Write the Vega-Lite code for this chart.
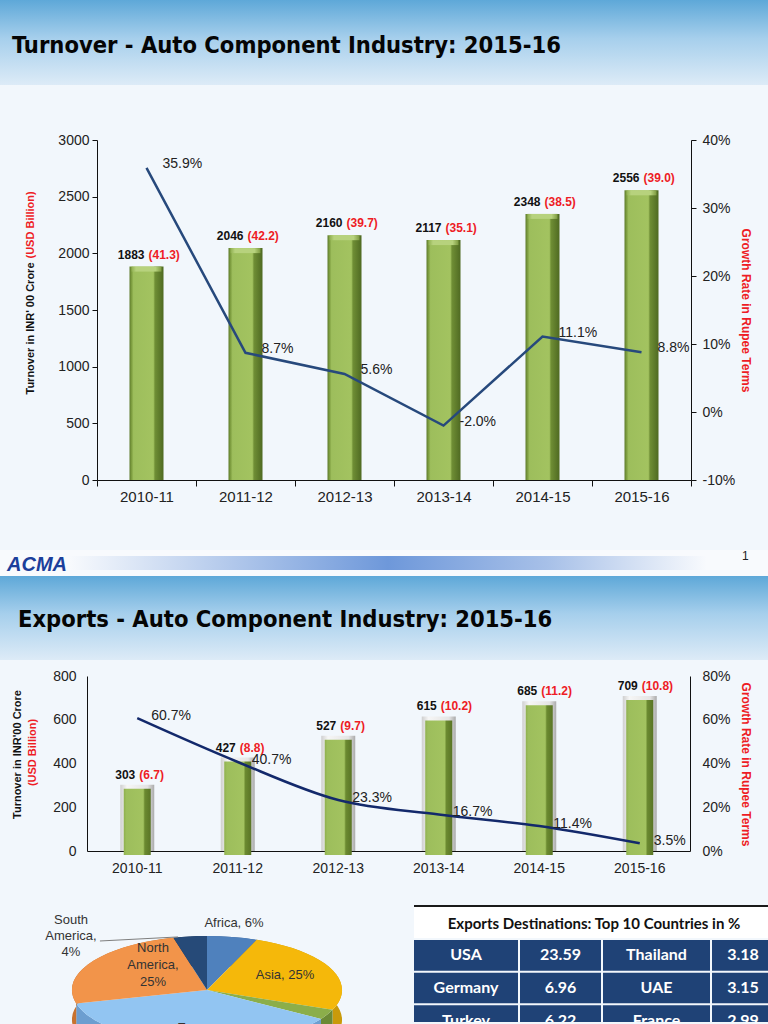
{
  "$schema": "https://vega.github.io/schema/vega-lite/v6.json",
  "padding": 0,
  "background": "#F2F7FC",
  "bounds": "flush",
  "spacing": 0,
  "data": {"values": [{}]},
  "config": {
    "view": {"stroke": null},
    "font": "Liberation Sans",
    "axis": {"labelFont": "Liberation Sans", "titleFont": "Liberation Sans"},
    "locale": {"number": {"decimal": ".", "thousands": ",", "grouping": [3], "currency": ["$", ""], "minus": "-"}}
  },
  "datasets": {
    "turnover": [
      {"year": "2010-11", "inr": 1883, "usd": 41.3, "growth": 0.359},
      {"year": "2011-12", "inr": 2046, "usd": 42.2, "growth": 0.087},
      {"year": "2012-13", "inr": 2160, "usd": 39.7, "growth": 0.056},
      {"year": "2013-14", "inr": 2117, "usd": 35.1, "growth": -0.02},
      {"year": "2014-15", "inr": 2348, "usd": 38.5, "growth": 0.111},
      {"year": "2015-16", "inr": 2556, "usd": 39.0, "growth": 0.088}
    ],
    "exports": [
      {"year": "2010-11", "inr": 303, "usd": 6.7, "growth": 0.607},
      {"year": "2011-12", "inr": 427, "usd": 8.8, "growth": 0.407},
      {"year": "2012-13", "inr": 527, "usd": 9.7, "growth": 0.233},
      {"year": "2013-14", "inr": 615, "usd": 10.2, "growth": 0.167},
      {"year": "2014-15", "inr": 685, "usd": 11.2, "growth": 0.114},
      {"year": "2015-16", "inr": 709, "usd": 10.8, "growth": 0.035}
    ],
    "regions": [
      {"region": "Africa", "value": 6, "label": "Africa, 6%"},
      {"region": "Asia", "value": 25, "label": "Asia, 25%"},
      {"region": "Others", "value": 3, "label": "Others, 3%"},
      {"region": "Europe", "value": 37, "label": "Europe,\n37%"},
      {"region": "North America", "value": 25, "label": "North\nAmerica,\n25%"},
      {"region": "South America", "value": 4, "label": "South\nAmerica,\n4%"}
    ],
    "countries": [
      {"row": 1, "c1": "USA", "v1": 23.59, "c2": "Thailand", "v2": 3.18},
      {"row": 2, "c1": "Germany", "v1": 6.96, "c2": "UAE", "v2": 3.15},
      {"row": 3, "c1": "Turkey", "v1": 6.22, "c2": "France", "v2": 2.99}
    ]
  },
  "vconcat": [
    {
      "width": 768, "height": 85,
      "view": {"stroke": null, "fill": {"gradient": "linear", "x1": 0, "y1": 0, "x2": 0, "y2": 1, "stops": [{"offset": 0, "color": "#5EA8D8"}, {"offset": 0.45, "color": "#A6CFEC"}, {"offset": 1, "color": "#DDEBF7"}]}},
      "mark": {"type": "text", "text": "Turnover - Auto Component Industry: 2015-16", "font": "DejaVu Sans Condensed, Liberation Sans", "fontWeight": "bold", "fontSize": 23.5, "align": "left", "baseline": "middle", "dx": 12, "dy": 3, "color": "#050505"},
      "encoding": {
        "x": {"datum": 0, "type": "quantitative", "scale": {"domain": [0, 1]}, "axis": null},
        "y": {"datum": 0.5, "type": "quantitative", "scale": {"domain": [0, 1]}, "axis": null}
      }
    },
    {"width": 768, "height": 55, "mark": {"type": "text", "text": ""}},
    {
      "width": 768, "height": 340,
      "data": {"name": "turnover"},
      "resolve": {"scale": {"y": "independent"}},
      "layer": [
        {
          "encoding": {
            "x": {"field": "year", "type": "nominal", "scale": {"range": [97, 691], "paddingInner": 0, "paddingOuter": 0},
                  "axis": {"title": null, "labelAngle": 0, "labelFontSize": 15, "labelColor": "#222", "tickBand": "extent", "tickSize": 6, "tickColor": "#111", "domainColor": "#111", "labelPadding": 3}},
            "y": {"field": "inr", "type": "quantitative", "scale": {"domain": [0, 3000]},
                  "axis": {"orient": "left", "offset": -97, "values": [0, 500, 1000, 1500, 2000, 2500, 3000], "format": "d", "grid": false, "domainColor": "#111", "tickColor": "#111", "tickSize": 5, "labelFontSize": 14, "labelColor": "#222", "labelPadding": 3,
                           "title": "Turnover in INR' 00 Crore", "titleFontSize": 11, "titleFontWeight": "bold", "titleColor": "#111", "titleAngle": 270, "titleX": -67, "titleY": 122, "titleAlign": "right", "titleBaseline": "middle"}}
          },
          "layer": [
            {"mark": {"type": "bar", "width": 34, "color": {"gradient": "linear", "x1": 0, "y1": 0, "x2": 1, "y2": 0, "stops": [{"offset": 0, "color": "#5E7B2C"}, {"offset": 0.06, "color": "#7E9E40"}, {"offset": 0.12, "color": "#9DBE5C"}, {"offset": 0.7, "color": "#A3C360"}, {"offset": 0.75, "color": "#6F8E35"}, {"offset": 1, "color": "#4F6A22"}]}}},
            {"mark": {"type": "bar", "width": 30, "y2Offset": 5, "color": {"gradient": "linear", "x1": 0, "y1": 0, "x2": 1, "y2": 0, "stops": [{"offset": 0, "color": "#8FAF50"}, {"offset": 0.15, "color": "#B7D27D"}, {"offset": 0.8, "color": "#B7D27D"}, {"offset": 1, "color": "#7D9A40"}]}},
             "encoding": {"y2": {"field": "inr"}}},
            {"mark": {"type": "text", "align": "right", "baseline": "bottom", "dx": -2, "dy": -5, "fontSize": 12, "fontWeight": "bold", "color": "#111"},
             "encoding": {"text": {"field": "inr", "type": "quantitative", "format": "d"}}},
            {"transform": [{"calculate": "'(' + format(datum.usd, '.1f') + ')'", "as": "usdLabel"}],
             "mark": {"type": "text", "align": "left", "baseline": "bottom", "dx": 2, "dy": -5, "fontSize": 12, "fontWeight": "bold", "color": "#EE1C25"},
             "encoding": {"text": {"field": "usdLabel", "type": "nominal"}}},
            {"data": {"values": [{}]},
             "mark": {"type": "text", "text": "CAGR: 6%", "fontSize": 18, "fontWeight": "bold", "color": "#111", "baseline": "middle", "dx": 29, "dy": -23},
             "encoding": {"x": {"datum": "2012-13"}, "y": {"datum": 3000}}},
            {"data": {"values": [{}]},
             "mark": {"type": "text", "text": "(Turnover includes supplies to OEMs, aftermarket sales and exports)", "fontSize": 11, "fontStyle": "italic", "color": "#222", "align": "right", "baseline": "middle", "dx": 115, "dy": 43},
             "encoding": {"x": {"datum": "2015-16"}, "y": {"datum": 0}}}
          ]
        },
        {
          "encoding": {
            "x": {"field": "year", "type": "nominal", "title": null},
            "y": {"field": "growth", "type": "quantitative", "scale": {"domain": [-0.1, 0.4]},
                  "axis": {"orient": "right", "offset": -77, "values": [-0.1, 0, 0.1, 0.2, 0.3, 0.4], "format": ".0%", "grid": false, "domainColor": "#111", "tickColor": "#111", "tickSize": 5, "labelFontSize": 14, "labelColor": "#222", "labelPadding": 6,
                           "title": "Growth Rate in Rupee Terms", "titleFontSize": 12, "titleFontWeight": "bold", "titleColor": "#EE1C25", "titleAngle": 90, "titleX": 54, "titleY": 170, "titleAlign": "center", "titleBaseline": "middle"}}
          },
          "layer": [
            {"mark": {"type": "line", "color": "#27497C", "strokeWidth": 2.5}},
            {"mark": {"type": "text", "align": "left", "baseline": "middle", "dx": 16, "dy": -4, "fontSize": 14, "color": "#222"},
             "encoding": {"text": {"field": "growth", "type": "quantitative", "format": ".1%"}}}
          ]
        },
        {
          "mark": {"type": "point", "opacity": 0},
          "encoding": {
            "y": {"field": "inr", "type": "quantitative", "scale": {"domain": [0, 3000]},
                  "axis": {"orient": "left", "offset": -97, "labels": false, "ticks": false, "domain": false, "grid": false,
                           "title": "(USD Billion)", "titleFontSize": 11, "titleFontWeight": "bold", "titleColor": "#EE1C25", "titleAngle": 270, "titleX": -67, "titleY": 118, "titleAlign": "left", "titleBaseline": "middle"}}
          }
        }
      ]
    },
    {"width": 768, "height": 70, "mark": {"type": "text", "text": ""}},
    {
      "width": 768, "height": 26,
      "view": {"stroke": null, "fill": "#F8FAFD"},
      "encoding": {
        "x": {"datum": 0, "type": "quantitative", "scale": {"domain": [0, 1]}, "axis": null},
        "y": {"datum": 0.5, "type": "quantitative", "scale": {"domain": [0, 1]}, "axis": null}
      },
      "layer": [
        {"mark": {"type": "rect", "color": {"gradient": "linear", "x1": 0, "y1": 0, "x2": 1, "y2": 0, "stops": [{"offset": 0, "color": "#F8FAFD"}, {"offset": 0.5, "color": "#6E98DA"}, {"offset": 0.75, "color": "#A7C0E8"}, {"offset": 1, "color": "#F8FAFD"}]}},
         "encoding": {"x": {"datum": 0.09, "type": "quantitative"}, "x2": {"datum": 0.92}, "y": {"datum": 0.77, "type": "quantitative"}, "y2": {"datum": 0.23}}},
        {"mark": {"type": "text", "text": "ACMA", "fontSize": 20, "fontWeight": "bold", "fontStyle": "italic", "color": "#1C3F9B", "align": "left", "baseline": "middle", "dx": 7, "dy": 2}},
        {"mark": {"type": "text", "text": "1", "fontSize": 12, "color": "#222", "align": "left", "baseline": "middle", "dx": 742, "dy": -7}}
      ]
    },
    {
      "width": 768, "height": 84,
      "view": {"stroke": null, "fill": {"gradient": "linear", "x1": 0, "y1": 0, "x2": 0, "y2": 1, "stops": [{"offset": 0, "color": "#5EA8D8"}, {"offset": 0.45, "color": "#A6CFEC"}, {"offset": 1, "color": "#DDEBF7"}]}},
      "mark": {"type": "text", "text": "Exports - Auto Component Industry: 2015-16", "font": "DejaVu Sans Condensed, Liberation Sans", "fontWeight": "bold", "fontSize": 23.5, "align": "left", "baseline": "middle", "dx": 18, "dy": 2, "color": "#050505"},
      "encoding": {
        "x": {"datum": 0, "type": "quantitative", "scale": {"domain": [0, 1]}, "axis": null},
        "y": {"datum": 0.5, "type": "quantitative", "scale": {"domain": [0, 1]}, "axis": null}
      }
    },
    {"width": 768, "height": 16, "mark": {"type": "text", "text": ""}},
    {
      "width": 768, "height": 175,
      "data": {"name": "exports"},
      "resolve": {"scale": {"y": "independent"}},
      "layer": [
        {
          "encoding": {
            "x": {"field": "year", "type": "nominal", "scale": {"range": [87, 690], "paddingInner": 0, "paddingOuter": 0},
                  "axis": {"title": null, "labelAngle": 0, "labelFontSize": 14, "labelColor": "#222", "ticks": false, "tickSize": 0, "domainColor": "#111", "labelPadding": 10}},
            "y": {"field": "inr", "type": "quantitative", "scale": {"domain": [0, 800]},
                  "axis": {"orient": "left", "offset": -87, "values": [0, 200, 400, 600, 800], "format": "d", "grid": false, "domainColor": "#111", "ticks": false, "tickSize": 0, "labelFontSize": 14, "labelColor": "#222", "labelPadding": 11,
                           "title": "Turnover in INR'00 Crore", "titleFontSize": 11, "titleFontWeight": "bold", "titleColor": "#111", "titleAngle": 270, "titleX": -70, "titleY": 78, "titleAlign": "center", "titleBaseline": "middle"}}
          },
          "layer": [
            {"mark": {"type": "bar", "width": 34, "color": {"gradient": "linear", "x1": 0, "y1": 0, "x2": 1, "y2": 0, "stops": [{"offset": 0, "color": "#CFCFCF"}, {"offset": 0.2, "color": "#F6F6F6"}, {"offset": 0.8, "color": "#E4E4E4"}, {"offset": 1, "color": "#ABABAB"}]}}},
            {"mark": {"type": "bar", "width": 27, "yOffset": 4, "color": {"gradient": "linear", "x1": 0, "y1": 0, "x2": 1, "y2": 0, "stops": [{"offset": 0, "color": "#8FB04E"}, {"offset": 0.1, "color": "#9DBE5C"}, {"offset": 0.72, "color": "#A3C360"}, {"offset": 0.78, "color": "#6B8A30"}, {"offset": 1, "color": "#5A7526"}]}}},
            {"mark": {"type": "text", "align": "right", "baseline": "bottom", "dx": -2, "dy": -3, "fontSize": 12, "fontWeight": "bold", "color": "#111"},
             "encoding": {"text": {"field": "inr", "type": "quantitative", "format": "d"}}},
            {"transform": [{"calculate": "'(' + format(datum.usd, '.1f') + ')'", "as": "usdLabel"}],
             "mark": {"type": "text", "align": "left", "baseline": "bottom", "dx": 2, "dy": -3, "fontSize": 12, "fontWeight": "bold", "color": "#EE1C25"},
             "encoding": {"text": {"field": "usdLabel", "type": "nominal"}}},
            {"data": {"values": [{}]},
             "mark": {"type": "text", "text": "CAGR: 18%", "fontSize": 15, "fontWeight": "bold", "color": "#111", "baseline": "middle", "dx": 38, "dy": 1},
             "encoding": {"x": {"datum": "2012-13"}, "y": {"datum": 800}}}
          ]
        },
        {
          "encoding": {
            "x": {"field": "year", "type": "nominal", "title": null},
            "y": {"field": "growth", "type": "quantitative", "scale": {"domain": [0, 0.8]},
                  "axis": {"orient": "right", "offset": -78, "values": [0, 0.2, 0.4, 0.6, 0.8], "format": ".0%", "grid": false, "domainColor": "#111", "ticks": false, "tickSize": 0, "labelFontSize": 14, "labelColor": "#222", "labelPadding": 12,
                           "title": "Growth Rate in Rupee Terms", "titleFontSize": 12, "titleFontWeight": "bold", "titleColor": "#EE1C25", "titleAngle": 90, "titleX": 55, "titleY": 88, "titleAlign": "center", "titleBaseline": "middle"}}
          },
          "layer": [
            {"mark": {"type": "line", "color": "#13296B", "strokeWidth": 2.5, "interpolate": "monotone"}},
            {"mark": {"type": "text", "align": "left", "baseline": "middle", "dx": 14, "dy": -2, "fontSize": 14, "color": "#222"},
             "encoding": {"text": {"field": "growth", "type": "quantitative", "format": ".1%"}}}
          ]
        },
        {
          "mark": {"type": "point", "opacity": 0},
          "encoding": {
            "y": {"field": "inr", "type": "quantitative", "scale": {"domain": [0, 800]},
                  "axis": {"orient": "left", "offset": -87, "labels": false, "ticks": false, "domain": false, "grid": false,
                           "title": "(USD Billion)", "titleFontSize": 11, "titleFontWeight": "bold", "titleColor": "#EE1C25", "titleAngle": 270, "titleX": -55, "titleY": 76, "titleAlign": "center", "titleBaseline": "middle"}}
          }
        }
      ]
    },
    {"width": 768, "height": 29, "mark": {"type": "text", "text": ""}},
    {
      "hconcat": [
        {
          "width": 414, "height": 144,
          "data": {"name": "regions"},
          "resolve": {"scale": {"shape": "independent", "color": "independent"}},
          "encoding": {
            "x": {"datum": 0.5, "type": "quantitative", "scale": {"domain": [0, 1]}, "axis": null},
            "y": {"datum": 0.2361, "type": "quantitative", "scale": {"domain": [0, 1]}, "axis": null}
          },
          "layer": [
            {"mark": {"type": "point", "filled": true, "opacity": 1, "size": 72900, "strokeWidth": 0, "clip": true},
             "encoding": {
               "shape": {"field": "region", "type": "nominal", "legend": null, "scale": {"domain": ["Africa", "Asia", "Others", "Europe", "North America", "South America"], "range": [
                 "M0,-0.4 A1,0.4 0 0,1 0.3681,-0.3719 L0.3681,-0.1519 A1,0.4 0 0,0 0,-0.18 Z",
                 "M0.3681,-0.3719 A1,0.4 0 0,1 0.9298,0.1472 L0.9298,0.3672 A1,0.4 0 0,0 0.3681,-0.1519 Z",
                 "M0.9298,0.1472 A1,0.4 0 0,1 0.8443,0.2143 L0.8443,0.4343 A1,0.4 0 0,0 0.9298,0.3672 Z",
                 "M0.8443,0.2143 A1,0.4 0 0,1 -0.9686,0.0995 L-0.9686,0.3195 A1,0.4 0 0,0 0.8443,0.4343 Z",
                 "M-0.9686,0.0995 A1,0.4 0 0,1 -0.2487,-0.3875 L-0.2487,-0.1675 A1,0.4 0 0,0 -0.9686,0.3195 Z",
                 "M-0.2487,-0.3875 A1,0.4 0 0,1 0,-0.4 L0,-0.18 A1,0.4 0 0,0 -0.2487,-0.1675 Z"]}},
               "color": {"field": "region", "type": "nominal", "legend": null, "scale": {"domain": ["Africa", "Asia", "Others", "Europe", "North America", "South America"], "range": ["#3A6296", "#C99A0A", "#6B8A35", "#6C9ED0", "#C8722F", "#1A3558"]}}
             }},
            {"mark": {"type": "point", "filled": true, "opacity": 1, "size": 72900, "strokeWidth": 0, "clip": true},
             "encoding": {
               "shape": {"field": "region", "type": "nominal", "legend": null, "scale": {"domain": ["Africa", "Asia", "Others", "Europe", "North America", "South America"], "range": [
                 "M0,0 L0,-0.4 A1,0.4 0 0,1 0.3681,-0.3719 Z",
                 "M0,0 L0.3681,-0.3719 A1,0.4 0 0,1 0.9298,0.1472 Z",
                 "M0,0 L0.9298,0.1472 A1,0.4 0 0,1 0.8443,0.2143 Z",
                 "M0,0 L0.8443,0.2143 A1,0.4 0 0,1 -0.9686,0.0995 Z",
                 "M0,0 L-0.9686,0.0995 A1,0.4 0 0,1 -0.2487,-0.3875 Z",
                 "M0,0 L-0.2487,-0.3875 A1,0.4 0 0,1 0,-0.4 Z"]}},
               "color": {"field": "region", "type": "nominal", "legend": null, "scale": {"domain": ["Africa", "Asia", "Others", "Europe", "North America", "South America"], "range": ["#4F81BD", "#F5B80A", "#8BAE4A", "#92C5F2", "#F2944A", "#264A78"]}}
             }},
            {"transform": [{"filter": "datum.region === 'Africa'"}],
             "mark": {"type": "text", "fontSize": 13, "color": "#333", "baseline": "middle", "dx": 27, "dy": -67},
             "encoding": {"text": {"field": "label", "type": "nominal"}}},
            {"transform": [{"filter": "datum.region === 'Asia'"}],
             "mark": {"type": "text", "fontSize": 13, "color": "#333", "baseline": "middle", "dx": 78, "dy": -15},
             "encoding": {"text": {"field": "label", "type": "nominal"}}},
            {"transform": [{"filter": "datum.region === 'North America'"}],
             "mark": {"type": "text", "fontSize": 13, "color": "#333", "lineBreak": "\n", "lineHeight": 17, "baseline": "middle", "dx": -54, "dy": -42},
             "encoding": {"text": {"field": "label", "type": "nominal"}}},
            {"transform": [{"filter": "datum.region === 'South America'"}],
             "mark": {"type": "text", "fontSize": 13, "color": "#333", "lineBreak": "\n", "lineHeight": 16, "baseline": "middle", "dx": -136, "dy": -70},
             "encoding": {"text": {"field": "label", "type": "nominal"}}},
            {"transform": [{"filter": "datum.region === 'South America'"}],
             "mark": {"type": "point", "shape": "M-0.793,-0.363 L-0.215,-0.393", "size": 72900, "filled": false, "color": "#7F7F7F", "strokeWidth": 1, "opacity": 1}},
            {"transform": [{"filter": "datum.region === 'Europe'"}],
             "mark": {"type": "text", "fontSize": 13, "color": "#333", "lineBreak": "\n", "lineHeight": 16, "baseline": "middle", "dx": -7, "dy": 38, "clip": true},
             "encoding": {"text": {"field": "label", "type": "nominal"}}}
          ]
        },
        {
          "spacing": 0,
          "bounds": "flush",
          "vconcat": [
            {"width": 360, "height": 25, "mark": {"type": "text", "text": ""}},
            {"width": 360, "height": 2, "view": {"fill": "#1A1A1A", "stroke": null}, "mark": {"type": "text", "text": ""}},
            {"width": 360, "height": 31, "view": {"fill": "#FFFFFF", "stroke": null}, "mark": {"type": "text", "text": "Exports Destinations: Top 10 Countries in %", "font": "Lato", "fontWeight": "bold", "fontSize": 15, "color": "#111", "dy": 1}},
            {
              "spacing": 2,
              "bounds": "flush",
              "data": {"name": "countries"},
              "hconcat": [
                {"width": 104, "height": 84,
                 "encoding": {"y": {"field": "row", "type": "ordinal", "scale": {"range": [2, 98], "paddingInner": 0.0625, "paddingOuter": 0}, "axis": null}},
                 "layer": [
                   {"mark": {"type": "rect", "color": "#1F4276", "clip": true}},
                   {"mark": {"type": "text", "color": "#FFFFFF", "font": "Lato", "fontWeight": "bold", "fontSize": 16, "baseline": "middle", "clip": true}, "encoding": {"text": {"field": "c1", "type": "nominal"}}}
                 ]},
                {"width": 81, "height": 84,
                 "encoding": {"y": {"field": "row", "type": "ordinal", "scale": {"range": [2, 98], "paddingInner": 0.0625, "paddingOuter": 0}, "axis": null}},
                 "layer": [
                   {"mark": {"type": "rect", "color": "#1F4276", "clip": true}},
                   {"mark": {"type": "text", "color": "#FFFFFF", "font": "Lato", "fontWeight": "bold", "fontSize": 16, "baseline": "middle", "clip": true}, "encoding": {"text": {"field": "v1", "type": "quantitative", "format": ".2f"}}}
                 ]},
                {"width": 107, "height": 84,
                 "encoding": {"y": {"field": "row", "type": "ordinal", "scale": {"range": [2, 98], "paddingInner": 0.0625, "paddingOuter": 0}, "axis": null}},
                 "layer": [
                   {"mark": {"type": "rect", "color": "#1F4276", "clip": true}},
                   {"mark": {"type": "text", "color": "#FFFFFF", "font": "Lato", "fontWeight": "bold", "fontSize": 16, "baseline": "middle", "clip": true}, "encoding": {"text": {"field": "c2", "type": "nominal"}}}
                 ]},
                {"width": 62, "height": 84,
                 "encoding": {"y": {"field": "row", "type": "ordinal", "scale": {"range": [2, 98], "paddingInner": 0.0625, "paddingOuter": 0}, "axis": null}},
                 "layer": [
                   {"mark": {"type": "rect", "color": "#1F4276", "clip": true}},
                   {"mark": {"type": "text", "color": "#FFFFFF", "font": "Lato", "fontWeight": "bold", "fontSize": 16, "baseline": "middle", "clip": true}, "encoding": {"text": {"field": "v2", "type": "quantitative", "format": ".2f"}}}
                 ]}
              ]
            }
          ]
        }
      ],
      "spacing": -21,
      "bounds": "flush"
    }
  ]
}
